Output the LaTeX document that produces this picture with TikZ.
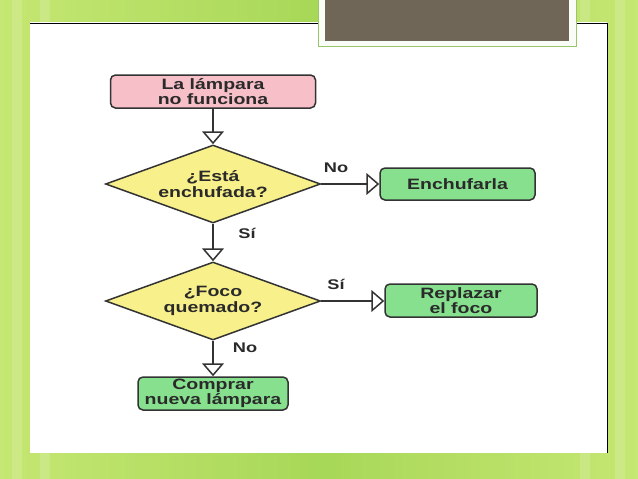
\documentclass[tikz,border=0pt]{standalone}
\usepackage{fontspec}
\setmainfont{Liberation Sans}
\newfontfamily\widefont[FakeStretch=1.3]{Liberation Sans}
\usetikzlibrary{shapes.geometric,arrows.meta}
\definecolor{bgA}{HTML}{A8D858}
\definecolor{bgB}{HTML}{CDEB7A}
\definecolor{pinkf}{HTML}{F7BFC8}
\definecolor{greenf}{HTML}{86E08E}
\definecolor{yellowf}{HTML}{F8F08A}
\definecolor{titlef}{HTML}{6F6658}
\definecolor{titleb}{HTML}{9CC46A}
\definecolor{txt}{HTML}{2A2A2A}
\begin{document}
\begin{tikzpicture}[x=1pt,y=-1pt,
  box/.style={draw=black!80,line width=1.5pt,rounded corners=5pt,align=center,inner sep=0pt,
     font=\widefont\fontsize{15}{13.5}\selectfont\bfseries,text=txt},
  dec/.style={draw=black!80,line width=1.5pt,diamond,aspect=2.75,fill=yellowf,align=center,inner sep=0pt,
     font=\widefont\fontsize{15}{16}\selectfont\bfseries,text=txt,minimum width=215pt,minimum height=78pt},
  arr/.style={line width=1.5pt,draw=black!80,-{Triangle[open,length=13pt,width=22pt,line width=1.5pt]}},
  lab/.style={font=\widefont\fontsize{14}{13}\selectfont\bfseries,text=txt}]
\useasboundingbox (0,0) rectangle (638,479);
\fill[bgA] (0,0) rectangle (638,479);
\shade[left color=bgB,right color=bgA,opacity=0.8] (0,0) rectangle (320,479);
\shade[left color=bgA,right color=bgB,opacity=0.8] (320,0) rectangle (638,479);
\foreach \xx in {12,40,580,615}{\fill[white,opacity=0.15] (\xx,0) rectangle (\xx+10,479);}
\fill[white] (30,22) rectangle (607,453);
\draw[black,line width=0.8pt] (30,23) -- (607,23) -- (607,453);
\filldraw[fill=white!95!titleb,draw=titleb,line width=1pt] (318,-2) rectangle (576,46);
\fill[titlef] (325,-2) rectangle (569,41);
\node[box,fill=pinkf,minimum width=205pt,minimum height=33pt] (s) at (213,91.5) {La lámpara\\no funciona};
\node[dec] (d1) at (213,184) {¿Está\\enchufada?};
\node[box,fill=greenf,minimum width=155pt,minimum height=32pt] (e) at (457.5,184) {Enchufarla};
\node[dec] (d2) at (213,301) {¿Foco\\quemado?};
\node[box,fill=greenf,minimum width=152pt,minimum height=33pt] (r) at (461,300.5) {Replazar\\el foco};
\node[box,fill=greenf,minimum width=150pt,minimum height=33pt] (c) at (213,393.5) {Comprar\\nueva lámpara};
\draw[arr] (s) -- (d1);
\draw[arr] (d1) -- (d2);
\draw[arr] (d2) -- (c);
\draw[arr] (d1) -- (e);
\draw[arr] (d2) -- (d2.east -| r.west);
\node[lab] (l1) at (336,168) {No};
\node[lab] (l2) at (247,233) {Sí};
\node[lab] (l3) at (336,284) {Sí};
\node[lab] (l4) at (245,348) {No};
\end{tikzpicture}
\end{document}
